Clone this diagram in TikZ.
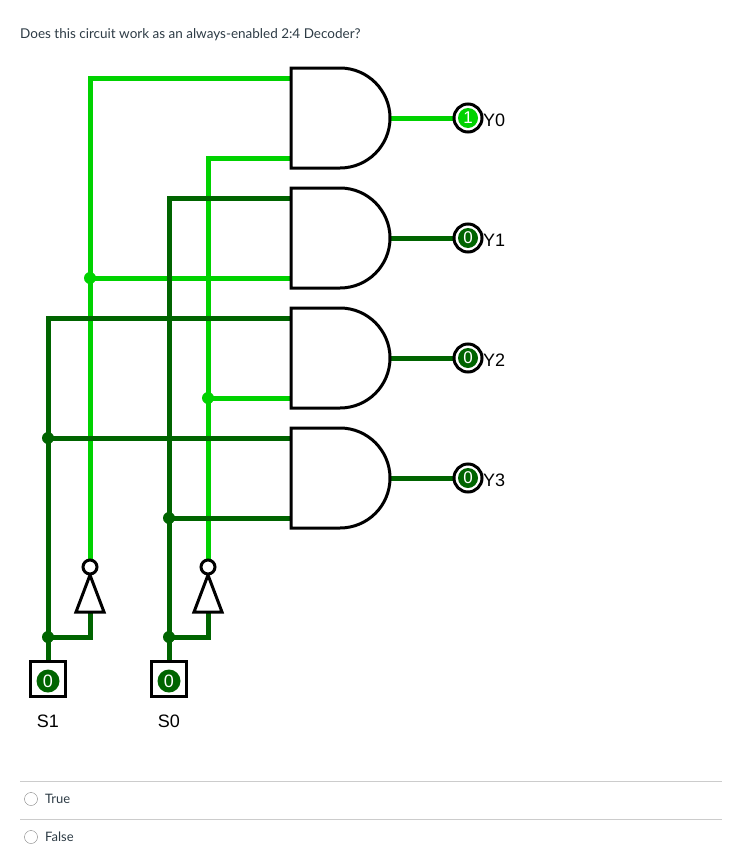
\documentclass[tikz,border=0pt]{standalone}
\usepackage{fontspec}
\setmainfont{Lato}
\newfontfamily\arialf{Liberation Sans}
\begin{document}
\begin{tikzpicture}[x=1pt,y=-1pt,
  on/.style={draw=lg,line width=5},
  off/.style={draw=dg,line width=5},
  gate/.style={draw=black,line width=3},
  dotlg/.style={circle,fill=lg,inner sep=0,minimum size=12},
  dotdg/.style={circle,fill=dg,inner sep=0,minimum size=12},
  lab/.style={font=\arialf\fontsize{18}{18}\selectfont,anchor=west,inner sep=0}]
\definecolor{lg}{RGB}{0,210,0}
\definecolor{dg}{RGB}{0,100,0}
\definecolor{txt}{RGB}{45,59,69}
\path[use as bounding box] (0,0) rectangle (739,862);
\node[anchor=west,text=txt,font=\fontsize{13.5}{16}\selectfont,inner sep=0] (q) at (20,35) {Does this circuit work as an always-enabled 2:4 Decoder?};
% coordinates
\coordinate (a0) at (90,78); \coordinate (b0) at (208,158);
\coordinate (j1) at (90,278); \coordinate (j2) at (208,398);
\coordinate (c0) at (169,198); \coordinate (j3) at (169,518);
\coordinate (d0) at (48,318); \coordinate (j4) at (48,438);
\coordinate (k1) at (48,637); \coordinate (k0) at (169,637);
% wires
\draw[on] (90,563) -- (a0) -- (291,78);
\draw[on] (j1) -- (291,278);
\draw[on] (208,563) -- (b0) -- (291,158);
\draw[on] (j2) -- (291,398);
\draw[off] (169,660) -- (c0) -- (291,198);
\draw[off] (j3) -- (291,518);
\draw[off] (48,660) -- (d0) -- (291,318);
\draw[off] (j4) -- (291,438);
\draw[off] (k1) -- (90,637) -- (90,612);
\draw[off] (k0) -- (208,637) -- (208,612);
\node[dotlg] (n1) at (j1) {}; \node[dotlg] (n2) at (j2) {};
\node[dotdg] (n3) at (j3) {}; \node[dotdg] (n4) at (j4) {};
\node[dotdg] (n5) at (k1) {}; \node[dotdg] (n6) at (k0) {};
% gates and outputs
\foreach \i/\y/\c/\v in {0/68/lg/1,1/188/dg/0,2/308/dg/0,3/428/dg/0}{
  \draw[line width=5,draw=\c] (390,\y+50) -- (462,\y+50);
  \draw[gate,fill=white] (291,\y) -- (340,\y) arc[start angle=-90,end angle=90,radius=50] -- (291,\y+100) -- cycle;
  \node[circle,draw=black,line width=3,fill=white,minimum size=28,inner sep=0] (o\i) at (468,\y+50) {};
  \node[circle,fill=\c,minimum size=20,inner sep=0,text=white,font=\arialf\fontsize{17}{17}\selectfont] (v\i) at (468,\y+50) {\v};
  \node[lab] (y\i) at (483,\y+52) {Y\i};
}
% inverters
\foreach \x/\n in {90/a,208/b}{
  \draw[gate,fill=white] (\x-14,612) -- (\x+14,612) -- (\x,575) -- cycle;
  \node[circle,draw=black,line width=3,fill=white,minimum size=14,inner sep=0] (inv\n) at (\x,567) {};
}
% inputs
\foreach \x/\s in {48/1,169/0}{
  \node[draw=black,line width=3.5,minimum size=35,inner sep=0,fill=white] (box\s) at (\x,679) {};
  \node[circle,fill=dg,minimum size=23,inner sep=0,text=white,font=\arialf\fontsize{18}{18}\selectfont] (in\s) at (\x,681) {0};
  \node[font=\arialf\fontsize{18}{18}\selectfont] (s\s) at (\x,721) {S\s};
}
% answers
\draw[gray!40,line width=0.8] (20,781) -- (722,781);
\draw[gray!40,line width=0.8] (20,819) -- (722,819);
\node[circle,draw=gray,minimum size=13,inner sep=0] (r1) at (31,799) {};
\node[circle,draw=gray,minimum size=13,inner sep=0] (r2) at (31,837) {};
\node[anchor=west,text=txt,font=\fontsize{13}{15}\selectfont,inner sep=0] (t1) at (45,799) {True};
\node[anchor=west,text=txt,font=\fontsize{13}{15}\selectfont,inner sep=0] (t2) at (45,837) {False};
\end{tikzpicture}
\end{document}
